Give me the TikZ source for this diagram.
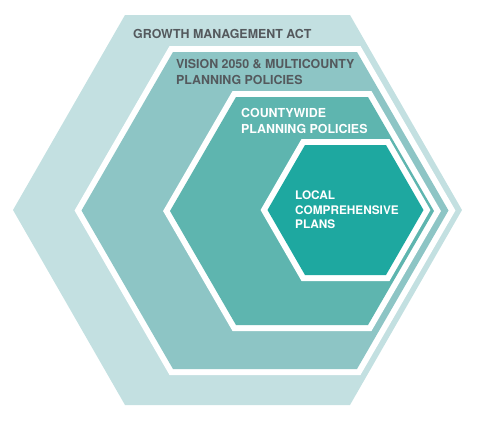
\documentclass[tikz,border=0pt]{standalone}
\usepackage{fontspec}
\setmainfont{TeX Gyre Heros}
\usepackage{tikz}
\definecolor{gmaColor}{HTML}{C3E0E1}
\definecolor{visionColor}{HTML}{8DC5C5}
\definecolor{countyColor}{HTML}{5EB5AF}
\definecolor{localColor}{HTML}{1EA8A0}
\definecolor{labelGray}{HTML}{54595D}
\tikzstyle{layer} = [
  preaction = {draw = white, line width = 12pt, line join = miter}
]
\tikzstyle{hexlabel} = [anchor = north west, inner sep = 0, align = left,
  font = \bfseries\fontsize{12.4}{16.5}\selectfont]

\begin{document}
\begin{tikzpicture}[x = 1pt, y = -1pt]
      \useasboundingbox (0, 0) rectangle (480, 424);
      % growth management act
      \fill [gmaColor] (125, 15) -- (350, 15) -- (462, 210) -- (350, 405)
        -- (125, 405) -- (13, 210) -- cycle;
      % vision 2050
      \path [layer, fill = visionColor] (173, 52) -- (357, 52) -- (448.5, 210.5)
        -- (357, 369) -- (173, 369) -- (81.5, 210.5) -- cycle;
      % countywide
      \path [layer, fill = countyColor] (236, 97) -- (368, 97) -- (434, 211)
        -- (368, 325) -- (236, 325) -- (170, 211) -- cycle;
      % local
      \path [layer, fill = localColor] (305, 145) -- (386, 145) -- (423.5, 210)
        -- (386, 275) -- (305, 275) -- (267.5, 210) -- cycle;

      \node [hexlabel, text = labelGray] (gma-label) at (133, 29)
        {GROWTH MANAGEMENT ACT};
      \node [hexlabel, text = labelGray] (vision-label) at (176, 59)
        {VISION 2050 \& MULTICOUNTY\\PLANNING POLICIES};
      \node [hexlabel, text = white] (county-label) at (241, 108)
        {COUNTYWIDE\\PLANNING POLICIES};
      \node [hexlabel, text = white, font = \bfseries\fontsize{11.8}{14.5}\selectfont]
        (local-label) at (295, 191) {LOCAL\\COMPREHENSIVE\\PLANS};
    \end{tikzpicture}
\end{document}
